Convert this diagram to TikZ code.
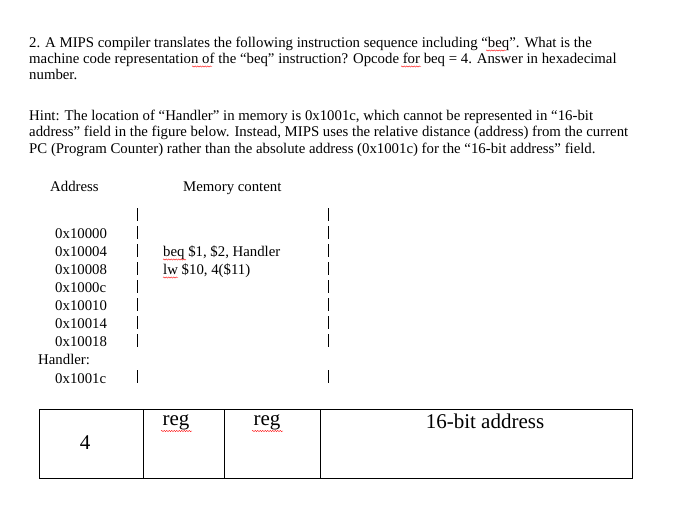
\documentclass[tikz,border=0pt]{standalone}
\usepackage{fontspec}
\setmainfont{Liberation Serif}
\usetikzlibrary{decorations.pathmorphing}
\begin{document}
\begin{tikzpicture}[x=1pt,y=-1pt,
  txt/.style={anchor=base west,inner sep=0pt,font=\fontsize{14.8}{16}\selectfont},
  big/.style={inner sep=0pt,font=\fontsize{21}{23}\selectfont},
  bar/.style={line width=0.6pt},
  wavy/.style={red,line width=0.4pt,decorate,decoration={snake,amplitude=0.6pt,segment length=2.5pt}}]
\useasboundingbox (0,0) rectangle (674,506);
\node[txt] (p1) at (29,47) {2. A MIPS compiler translates the following instruction sequence including “beq”. What is the};
\node[txt] (p2) at (29,63) {machine code representation of the “beq” instruction? Opcode for beq = 4. Answer in hexadecimal};
\node[txt] (p3) at (29,79) {number.};
\draw[wavy] (486,50.5) -- (506,50.5);
\draw[wavy] (192,66.5) -- (212,66.5);
\draw[wavy] (401,66.5) -- (421,66.5);
\node[txt] (h1) at (29,120) {Hint: The location of “Handler” in memory is 0x1001c, which cannot be represented in “16-bit};
\node[txt] (h2) at (29,136) {address” field in the figure below. Instead, MIPS uses the relative distance (address) from the current};
\node[txt] (h3) at (29,153) {PC (Program Counter) rather than the absolute address (0x1001c) for the “16-bit address” field.};
\node[txt] (ad) at (50,191) {Address};
\node[txt] (mc) at (183,191) {Memory content};
\foreach \a/\y in {0x10000/238,0x10004/256,0x10008/274,0x1000c/292,0x10010/310,0x10014/328,0x10018/346,0x1001c/383}
  \node[txt] at (55,\y) {\a};
\node[txt] (hd) at (38,364) {Handler:};
\foreach \y in {208,226,244,262,280,298,316,334,370}{
  \draw[bar] (137,\y) -- (137,\y+13);
  \draw[bar] (328,\y) -- (328,\y+13);}
\node[txt] (beq) at (163,256) {beq \$1, \$2, Handler};
\node[txt] (lw) at (163,274) {lw \$10, 4(\$11)};
\draw[wavy] (163,259.5) -- (186,259.5);
\draw[wavy] (163,277.5) -- (178,277.5);
% box
\draw[line width=0.8pt] (39,409) rectangle (632,478);
\draw[line width=0.8pt] (143,409) -- (143,478);
\draw[line width=0.8pt] (224,409) -- (224,478);
\draw[line width=0.8pt] (320,409) -- (320,478);
\node[big] (f1) at (85,443) {4};
\node[big] (f2) at (176,422) {reg};
\node[big] (f3) at (267,422) {reg};
\node[big] (f4) at (485,421) {16-bit address};
\draw[wavy] (161,431) -- (192,431);
\draw[wavy] (252,431) -- (283,431);
\end{tikzpicture}
\end{document}
